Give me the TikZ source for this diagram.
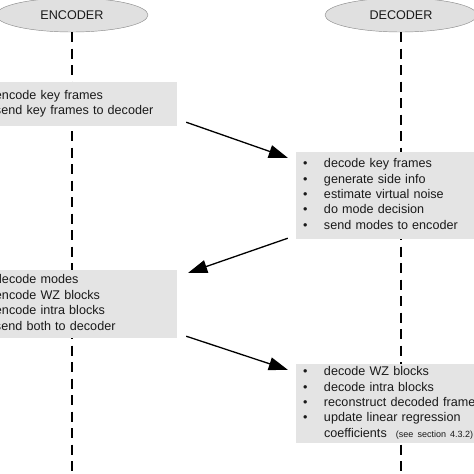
\documentclass[tikz,border=0pt]{standalone}
\usepackage{fontspec}
\setmainfont{Liberation Sans}
\usetikzlibrary{arrows.meta,shapes.geometric}
\definecolor{boxgray}{HTML}{E4E4E4}
\definecolor{ellgray}{HTML}{E0E0E0}
\definecolor{txtgray}{HTML}{1A1A1A}
\newcommand\blist[1]{\begin{tabular}{@{}p{21pt}@{}l@{}}#1\end{tabular}}
\begin{document}
\begin{tikzpicture}[x=1pt,y=-1pt,line width=.45pt,
  actor/.style={ellipse,draw=black!45,fill=ellgray,text=txtgray,minimum width=152pt,minimum height=34pt,inner sep=0pt,font=\fontsize{12.6}{15.4}\selectfont},
  stepbox/.style={fill=boxgray,text=txtgray,text width=196pt,inner xsep=7pt,inner ysep=0pt,align=left,font=\fontsize{12.6}{15.4}\selectfont},
  life/.style={line width=1.4pt,dash pattern=on 10pt off 6.5pt},
  msg/.style={line width=1.3pt,-{Triangle[length=19pt,width=13pt]}}]
\useasboundingbox (0,0) rectangle (474,474);
\clip (0,0) rectangle (474,474);
% actors and life lines
\node[actor] (enc) at (72,15) {ENCODER};
\node[actor] (dec) at (401,15) {DECODER};
\coordinate (encbot) at (72,480); \coordinate (decbot) at (401,480);
\draw[life] (enc) -- (encbot); \draw[life] (dec) -- (decbot);
% steps
\node[stepbox,minimum height=44pt] (k1) at (72,104)
  {\blist{\textbullet & encode key frames\\ \textbullet & send key frames to decoder}};
\node[stepbox,minimum height=87pt] (k2) at (401,195.5)
  {\blist{\textbullet & decode key frames\\ \textbullet & generate side info\\
   \textbullet & estimate virtual noise\\ \textbullet & do mode decision\\
   \textbullet & send modes to encoder}};
\node[stepbox,minimum height=68pt] (k3) at (72,304)
  {\blist{\textbullet & decode modes\\ \textbullet & encode WZ blocks\\
   \textbullet & encode intra blocks\\ \textbullet & send both to decoder}};
\node[stepbox,minimum height=79pt] (k4) at (401,403.5)
  {\blist{\textbullet & decode WZ blocks\\ \textbullet & decode intra blocks\\
   \textbullet & reconstruct decoded frames\\ \textbullet & update linear regression\\
   & coefficients\hspace{9pt}{\fontsize{9}{10}\selectfont (see section 4.3.2)}}};
% messages
\draw[msg] ([xshift=9pt,yshift=4pt]k1.south east) -- ([xshift=-8pt,yshift=-6pt]k2.north west);
\draw[msg] ([xshift=-8pt,yshift=1pt]k2.south west) -- ([xshift=11pt,yshift=-3pt]k3.north east);
\draw[msg] ([xshift=9pt,yshift=2pt]k3.south east) -- ([xshift=-8pt,yshift=-6pt]k4.north west);
\end{tikzpicture}
\end{document}
